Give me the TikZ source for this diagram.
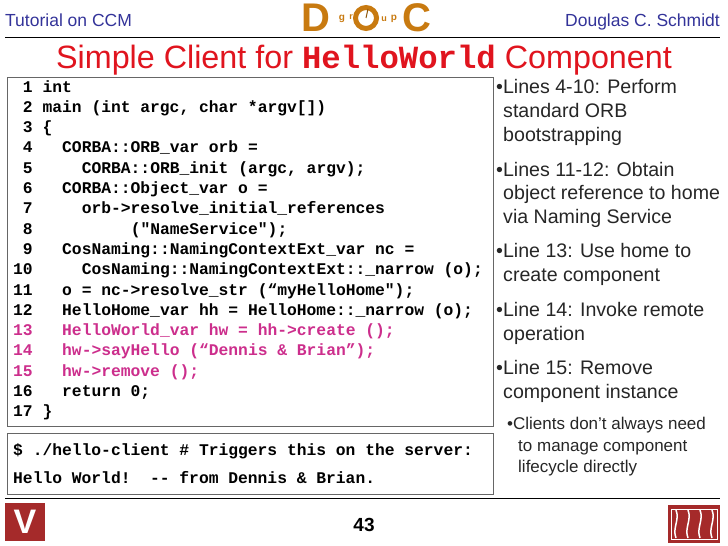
\documentclass[tikz,border=0pt]{standalone}
\usepackage{fontspec}
\setmainfont{Liberation Sans}
\newfontfamily\code{Liberation Mono}
\definecolor{hdr}{HTML}{333399}
\definecolor{ttl}{HTML}{E0141E}
\definecolor{mag}{HTML}{CC2E8C}
\definecolor{gold}{HTML}{C87A10}
\definecolor{vred}{HTML}{A52A2A}
\tikzset{
  codeln/.style={anchor=base west,inner sep=0pt,font=\code\bfseries\fontsize{16.3}{18}\selectfont},
  bul/.style={anchor=base west,inner sep=0pt,font=\fontsize{19.6}{20}\selectfont,text=black!85},
  subbul/.style={anchor=base west,inner sep=0pt,font=\fontsize{17}{18}\selectfont,text=black!85},
  box/.style={draw=black!60,line width=1pt},
}
\newcommand\cl[5]{% name, y, col, color, text
  \node[codeln,text=#4] (n#1) at (13,#2) {\ifnum#1<10 \phantom{0}\fi#1};
  \node[codeln,text=#4] (c#1) at ({13+#3*9.8},#2) {#5};}
\begin{document}
\begin{tikzpicture}[x=1pt,y=-1pt]
\useasboundingbox (0,0) rectangle (728,546);
% header
\node[anchor=base west,inner sep=0pt,text=hdr,font=\fontsize{17.5}{19}\selectfont] (h1) at (5,26) {Tutorial on CCM};
\node[anchor=base east,inner sep=0pt,text=hdr,font=\fontsize{17.5}{19}\selectfont] (h2) at (720,26) {Douglas C. Schmidt};
% DOC logo
\node[inner sep=0pt,text=gold,font=\fontsize{40}{40}\bfseries\selectfont] (dD) at (316,18) {D};
\node[inner sep=0pt,text=gold,font=\fontsize{10}{10}\bfseries\selectfont] (dg) at (342,19) {g};
\node[inner sep=0pt,text=gold,font=\fontsize{9}{9}\bfseries\selectfont] (dr) at (351,17) {r};
\draw[gold,line width=5pt] (366,18) circle (10.5);
\draw[gold!70!black,line width=1pt] (366,18) -- (368,9);
\node[inner sep=0pt,text=gold,font=\fontsize{9}{9}\bfseries\selectfont] (du) at (384,19) {u};
\node[inner sep=0pt,text=gold,font=\fontsize{10}{10}\bfseries\selectfont] (dp) at (394,19) {p};
\node[inner sep=0pt,text=gold,font=\fontsize{40}{40}\bfseries\selectfont] (dC) at (417,18) {C};
\draw[black,line width=1pt] (5,37) -- (720,37);
% title
\node[anchor=base,inner sep=0pt,text=ttl,font=\fontsize{32.3}{34}\selectfont] (title) at (364,68) {Simple Client for {\code\bfseries HelloWorld} Component};
% code box
\draw[box] (7,77) rectangle (493,426);
\cl{1}{92}{3}{black}{int}
\cl{2}{112.3}{3}{black}{main (int argc, char *argv[])}
\cl{3}{132.6}{3}{black}{\{}
\cl{4}{152.9}{5}{black}{CORBA::ORB\_var orb =}
\cl{5}{173.2}{7}{black}{CORBA::ORB\_init (argc, argv);}
\cl{6}{193.5}{5}{black}{CORBA::Object\_var o =}
\cl{7}{213.8}{7}{black}{orb->resolve\_initial\_references}
\cl{8}{234.1}{12}{black}{("NameService");}
\cl{9}{254.4}{5}{black}{CosNaming::NamingContextExt\_var nc =}
\cl{10}{274.7}{7}{black}{CosNaming::NamingContextExt::\_narrow (o);}
\cl{11}{295}{5}{black}{o = nc->resolve\_str (“myHelloHome");}
\cl{12}{315.3}{5}{black}{HelloHome\_var hh = HelloHome::\_narrow (o);}
\cl{13}{335.6}{5}{mag}{HelloWorld\_var hw = hh->create ();}
\cl{14}{355.9}{5}{mag}{hw->sayHello (“Dennis \& Brian”);}
\cl{15}{376.2}{5}{mag}{hw->remove ();}
\cl{16}{396.5}{5}{black}{return 0;}
\cl{17}{416.8}{3}{black}{\}}
% output box
\draw[box] (7,433) rectangle (493,494);
\node[codeln] (o1) at (13,455) {\$ ./hello-client \# Triggers this on the server:};
\node[codeln] (o2) at (13,483) {Hello World!\ \ -- from Dennis \& Brian.};
% bullets
\node[bul] (b1) at (496,93) {•Lines 4-10: Perform};
\node[bul] (b1b) at (503,117) {standard ORB};
\node[bul] (b1c) at (503,141) {bootstrapping};
\node[bul] (b2) at (496,176) {•Lines 11-12: Obtain};
\node[bul] (b2b) at (503,199.5) {object reference to home};
\node[bul] (b2c) at (503,223) {via Naming Service};
\node[bul] (b3) at (496,257) {•Line 13: Use home to};
\node[bul] (b3b) at (503,281) {create component};
\node[bul] (b4) at (496,316) {•Line 14: Invoke remote};
\node[bul] (b4b) at (503,340) {operation};
\node[bul] (b5) at (496,374) {•Line 15: Remove};
\node[bul] (b5b) at (503,398) {component instance};
\node[subbul] (s1) at (507,429) {•Clients don’t always need};
\node[subbul] (s1b) at (518,451) {to manage component};
\node[subbul] (s1c) at (518,472) {lifecycle directly};
% footer
\draw[black,line width=1pt] (5,498) -- (720,498);
\node[anchor=base,inner sep=0pt,font=\fontsize{19}{20}\bfseries\selectfont] (pg) at (364,531) {43};
\fill[vred] (5,503) rectangle (45,541);
\node[inner sep=0pt,text=white,font=\fontsize{34}{34}\bfseries\selectfont] (vl) at (25,522) {V};
\fill[vred] (668,505) rectangle (720,543);
\foreach \i in {676,688,700,712}{\draw[white,line width=1.5pt] (\i,510) .. controls (\i+4,520) and (\i-4,528) .. (\i,538);}
\draw[white,line width=0.8pt] (671,509) rectangle (717,539);
\end{tikzpicture}
\end{document}
